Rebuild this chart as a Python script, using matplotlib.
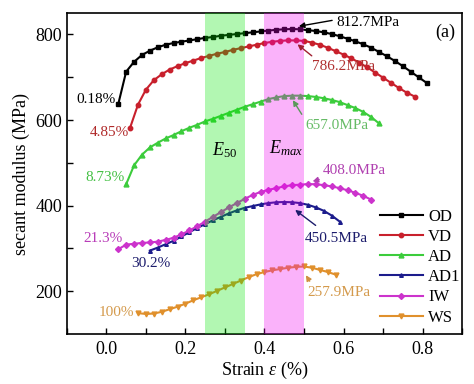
import matplotlib
matplotlib.use("Agg")
import matplotlib.pyplot as plt
import numpy as np

plt.rcParams['font.family'] = ['Liberation Serif', 'DejaVu Serif']
plt.rcParams['mathtext.fontset'] = 'custom'
plt.rcParams['mathtext.rm'] = 'Liberation Serif'
plt.rcParams['mathtext.it'] = 'Liberation Serif:italic'

# ---- data ----
od_x = [0.03, 0.05, 0.07, 0.09, 0.11, 0.13, 0.15, 0.17, 0.19, 0.21, 0.23, 0.25, 0.27, 0.29,
        0.31, 0.33, 0.35, 0.37, 0.39, 0.41, 0.43, 0.45, 0.47, 0.49, 0.51, 0.53, 0.55, 0.57,
        0.59, 0.61, 0.63, 0.65, 0.67, 0.69, 0.71, 0.73, 0.75, 0.77, 0.79, 0.81]
od_y = [637, 713, 736, 752, 762, 770, 776, 780, 783, 786, 789, 792, 794, 797,
        799, 801, 803, 805, 807, 809, 811, 812, 812.7, 812, 810, 808, 805, 801,
        796, 790, 784, 777, 769, 759, 749, 738, 726, 713, 700, 687]

vd_x = [0.06, 0.08, 0.10, 0.12, 0.14, 0.16, 0.18, 0.20, 0.22, 0.24, 0.26, 0.28, 0.30, 0.32,
        0.34, 0.36, 0.38, 0.40, 0.42, 0.44, 0.46, 0.48, 0.50, 0.52, 0.54, 0.56, 0.58, 0.60,
        0.62, 0.64, 0.66, 0.68, 0.70, 0.72, 0.74, 0.76, 0.78]
vd_y = [582, 636, 671, 693, 707, 718, 726, 733, 739, 745, 750, 755, 759, 764,
        768, 772, 776, 780, 783, 785, 786.2, 786, 785, 781, 776, 769, 761, 753,
        744, 734, 723, 711, 699, 687, 675, 664, 655]

ad_x = [0.05, 0.07, 0.09, 0.11, 0.13, 0.15, 0.17, 0.19, 0.21, 0.23, 0.25, 0.27, 0.29, 0.31,
        0.33, 0.35, 0.37, 0.39, 0.41, 0.43, 0.45, 0.47, 0.49, 0.51, 0.53, 0.55, 0.57, 0.59,
        0.61, 0.63, 0.65, 0.67, 0.69]
ad_y = [450, 494, 519, 536, 547, 557, 565, 574, 582, 589, 597, 603, 610, 617,
        624, 631, 637, 643, 649, 653, 656, 657, 657, 656, 654, 651, 647, 642,
        635, 628, 619, 607, 592]

ad1_x = [0.11, 0.13, 0.15, 0.17, 0.19, 0.21, 0.23, 0.25, 0.27, 0.29, 0.31, 0.33, 0.35,
         0.37, 0.39, 0.41, 0.43, 0.45, 0.47, 0.49, 0.51, 0.53, 0.55, 0.57, 0.59]
ad1_y = [295, 302, 310, 318, 328, 338, 348, 357, 366, 374, 382, 389, 395,
         399, 403, 406, 408, 408.5, 408, 406, 402, 396, 388, 377, 363]

iw_x = [0.03, 0.05, 0.07, 0.09, 0.11, 0.13, 0.15, 0.17, 0.19, 0.21, 0.23, 0.25, 0.27, 0.29,
        0.31, 0.33, 0.35, 0.37, 0.39, 0.41, 0.43, 0.45, 0.47, 0.49, 0.51, 0.53, 0.55, 0.57,
        0.59, 0.61, 0.63, 0.65, 0.67]
iw_y = [298, 309, 311, 313, 314, 316, 320, 325, 333, 342, 352, 363, 374, 385,
        396, 406, 416, 425, 432, 437, 441, 445, 448, 449, 450.5, 450, 448, 445,
        441, 436, 430, 423, 414]

ws_x = [0.08, 0.10, 0.12, 0.14, 0.16, 0.18, 0.20, 0.22, 0.24, 0.26, 0.28, 0.30, 0.32,
        0.34, 0.36, 0.38, 0.40, 0.42, 0.44, 0.46, 0.48, 0.50, 0.52, 0.54, 0.56, 0.58]
ws_y = [149, 147, 148, 152, 158, 164, 171, 179, 186, 193, 201, 209, 217,
        225, 233, 240, 245, 249, 252, 255, 257, 257.9, 255, 250, 245, 239]

labels = ["OD", "VD", "AD", "AD1", "IW", "WS"]
colors = ["#000000", "#c8202c", "#3ccc3c", "#1c1c8c", "#cc33cc", "#e0902c"]
markers = ["s", "o", "^", "^", "D", "v"]
msizes = [3.0, 3.2, 3.5, 2.6, 3.0, 3.5]

fig = plt.figure(figsize=(4.74, 3.84), dpi=100)
ax = fig.add_axes([0.141, 0.130, 0.834, 0.836])

series = [(od_x, od_y), (vd_x, vd_y), (ad_x, ad_y), (ad1_x, ad1_y), (iw_x, iw_y), (ws_x, ws_y)]
for (x, y), lab, c, m, ms in zip(series, labels, colors, markers, msizes):
    ax.plot(x, y, color=c, marker=m, markersize=ms, lw=1.5, label=lab, zorder=3)

ax.axvspan(0.25, 0.35, color=(0.0, 0.9, 0.0), alpha=0.3, lw=0, zorder=4)
ax.axvspan(0.40, 0.50, color=(0.94, 0.0, 0.94), alpha=0.3, lw=0, zorder=4)

ax.set_xlim(-0.1, 0.9)
ax.set_ylim(100, 850)
ax.set_xticks([0.0, 0.2, 0.4, 0.6, 0.8])
ax.set_xticks([-0.1, 0.1, 0.3, 0.5, 0.7, 0.9], minor=True)
ax.set_yticks([200, 400, 600, 800])
ax.set_yticks([300, 500, 700], minor=True)
ax.tick_params(which='both', direction='in', length=4, width=1, labelsize=13)
ax.tick_params(axis='x', pad=5)
for s in ax.spines.values():
    s.set_linewidth(1.2)

ax.set_xlabel(r"Strain $\varepsilon$ (%)", fontsize=13, labelpad=1)
ax.set_ylabel("secant modulus (MPa)", fontsize=13, labelpad=4)

fs = 11
ax.text(0.023, 648, "0.18%", color="black", fontsize=fs, ha='right', va='center', zorder=6)
ax.text(0.058, 570, "4.85%", color="#b02a2a", fontsize=fs, ha='right', va='center', zorder=6)
ax.text(0.046, 466, "8.73%", color="#44c044", fontsize=fs, ha='right', va='center', zorder=6)
ax.text(0.040, 323, "21.3%", color="#b83cb8", fontsize=fs, ha='right', va='center', zorder=6)
ax.text(0.112, 266, "30.2%", color="#1c1c6c", fontsize=fs, ha='center', va='center', zorder=6)
ax.text(0.071, 150, "100%", color="#d49a4c", fontsize=fs, ha='right', va='center', zorder=6)

def ann(txt, tip, tail, tpos, c, tc):
    ax.annotate("", xy=tip, xytext=tail,
                arrowprops=dict(arrowstyle="-|>", color=c, lw=1.0, mutation_scale=8), zorder=6)
    ax.text(tpos[0], tpos[1], txt, color=tc, fontsize=fs, ha='left', va='center', zorder=6)

ann("812.7MPa", (0.48, 818), (0.578, 834), (0.582, 827), "black", "black")
ann("786.2MPa", (0.478, 781), (0.525, 746), (0.520, 724), "#a02030", "#b03030")
ann("657.0MPa", (0.468, 652), (0.498, 608), (0.504, 588), "#5a9a5a", "#66bb66")
ann("408.0MPa", (0.515, 455), (0.545, 463), (0.547, 483), "#b040b0", "#b040b0")
ann("450.5MPa", (0.472, 394), (0.535, 350), (0.501, 323), "#1c1c6c", "#1c1c6c")
ann("257.9MPa", (0.501, 243), (0.518, 218), (0.509, 197), "#d09040", "#d49a4c")

ax.text(0.856, 806, "(a)", fontsize=13, ha='center', va='center', zorder=6)
ax.text(0.30, 530, r"$E_{50}$", fontsize=13, ha='center', va='center', zorder=6)
ax.text(0.455, 535, r"$E_{max}$", fontsize=13, ha='center', va='center', zorder=6)

ax.legend(loc='lower right', bbox_to_anchor=(1.025, -0.01), frameon=False, fontsize=12,
          handlelength=2.6, handletextpad=0.3, labelspacing=0.25, borderaxespad=0.3)

fig.savefig("out.png", dpi=100)
